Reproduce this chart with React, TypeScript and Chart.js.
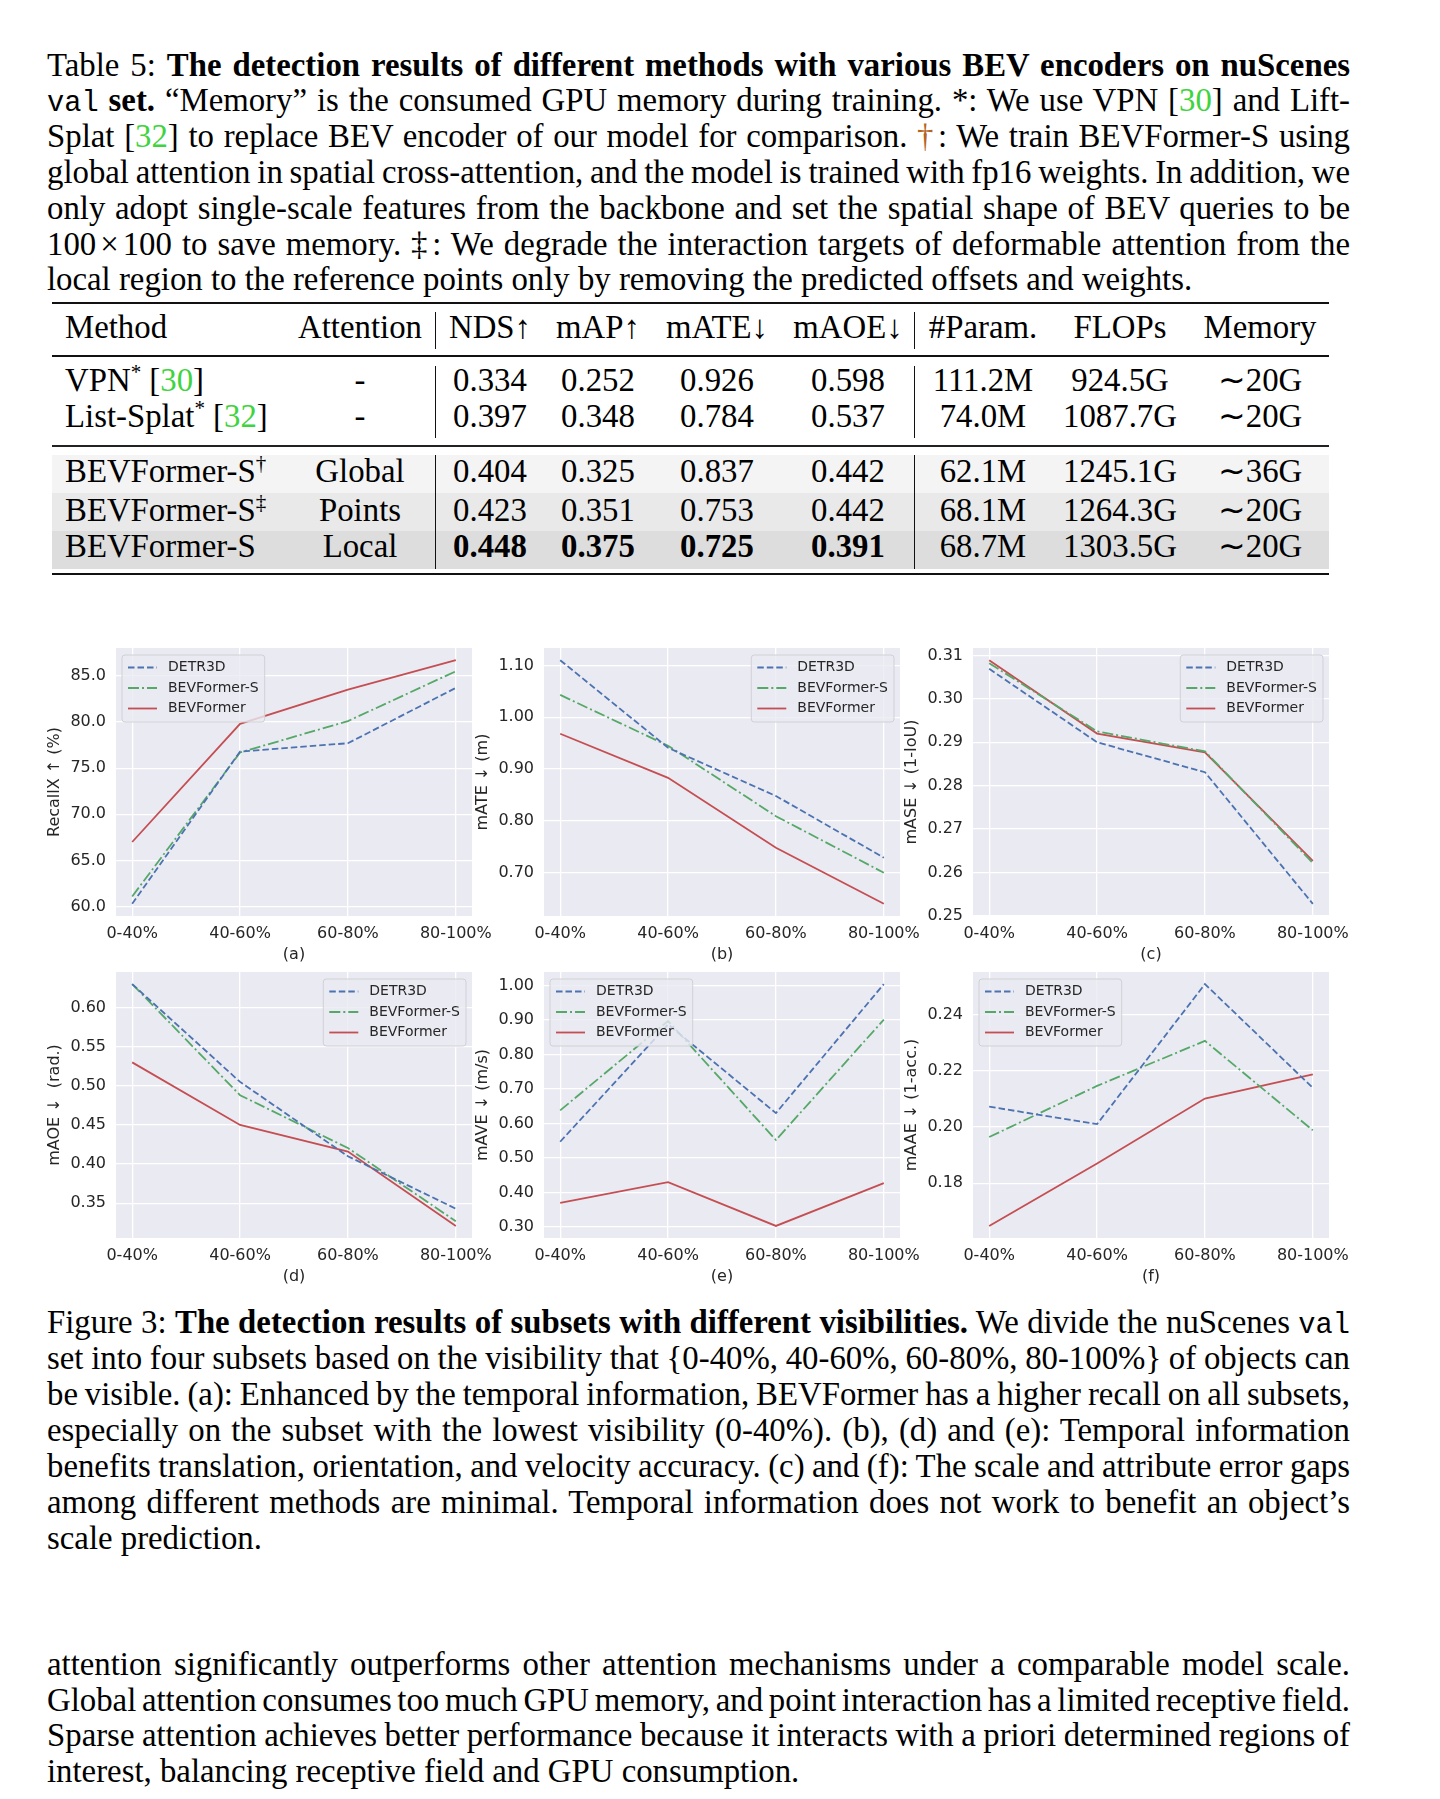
import React, { useEffect, useRef } from "react";
import { Chart, registerables } from "chart.js";

Chart.register(...registerables);

// ---------------- chart data ----------------
const categories = ["0-40%", "40-60%", "60-80%", "80-100%"];
const seriesNames = ["DETR3D", "BEVFormer-S", "BEVFormer"];

const recallDETR3D = [60.3, 76.8, 77.7, 83.7];
const recallBEVFormerS = [61.1, 76.7, 80.1, 85.5];
const recallBEVFormer = [67.0, 79.8, 83.5, 86.7];
const recallTicks = [60, 65, 70, 75, 80, 85];

const mateDETR3D = [1.11, 0.941, 0.848, 0.729];
const mateBEVFormerS = [1.043, 0.945, 0.809, 0.7];
const mateBEVFormer = [0.968, 0.883, 0.748, 0.64];
const mateTicks = [0.7, 0.8, 0.9, 1.0, 1.1];

const maseDETR3D = [0.3069, 0.29, 0.2831, 0.2528];
const maseBEVFormerS = [0.3082, 0.2925, 0.2879, 0.2622];
const maseBEVFormer = [0.3089, 0.292, 0.2877, 0.2627];
const maseTicks = [0.25, 0.26, 0.27, 0.28, 0.29, 0.3, 0.31];

const maoeDETR3D = [0.63, 0.505, 0.41, 0.343];
const maoeBEVFormerS = [0.63, 0.488, 0.4205, 0.327];
const maoeBEVFormer = [0.53, 0.45, 0.416, 0.321];
const maoeTicks = [0.35, 0.4, 0.45, 0.5, 0.55, 0.6];

const maveDETR3D = [0.547, 0.887, 0.63, 1.004];
const maveBEVFormerS = [0.638, 0.897, 0.552, 0.901];
const maveBEVFormer = [0.37, 0.43, 0.303, 0.427];
const maveTicks = [0.3, 0.4, 0.5, 0.6, 0.7, 0.8, 0.9, 1.0];

const maaeDETR3D = [0.2072, 0.201, 0.2508, 0.2139];
const maaeBEVFormerS = [0.1964, 0.2146, 0.2306, 0.1988];
const maaeBEVFormer = [0.1648, 0.187, 0.2101, 0.2187];
const maaeTicks = [0.18, 0.2, 0.22, 0.24];

// ---------------- table data ----------------
const tableHeaders = ["Method", "Attention", "NDS↑", "mAP↑", "mATE↓", "mAOE↓", "#Param.", "FLOPs", "Memory"];
const tableMethods = ["VPN", "List-Splat", "BEVFormer-S", "BEVFormer-S", "BEVFormer-S"];
const tableMarks = ["*", "*", "†", "‡", ""];
const tableCites = ["30", "32", "", "", ""];
const tableAttention = ["-", "-", "Global", "Points", "Local"];
const tableNDS = ["0.334", "0.397", "0.404", "0.423", "0.448"];
const tableMAP = ["0.252", "0.348", "0.325", "0.351", "0.375"];
const tableMATE = ["0.926", "0.784", "0.837", "0.753", "0.725"];
const tableMAOE = ["0.598", "0.537", "0.442", "0.442", "0.391"];
const tableParams = ["111.2M", "74.0M", "62.1M", "68.1M", "68.7M"];
const tableFLOPs = ["924.5G", "1087.7G", "1245.1G", "1264.3G", "1303.5G"];
const tableMemory = ["∼20G", "∼20G", "∼36G", "∼20G", "∼20G"];

// ---------------- styles ----------------
const COLORS = ["#4C72B0", "#55A868", "#C44E52"];
const DASHES = [[6.5, 3], [11, 3, 2, 3], []];
const SANS = '"DejaVu Sans", sans-serif';
const SERIF = '"Liberation Serif", "Times New Roman", serif';
const MONO = '"Liberation Mono", "DejaVu Sans Mono", monospace';
const TEXT_COLOR = "#262626";
const GREEN = "#3fd43f";
const FS = 32.8;

const bgPlugin = {
  id: "bgArea",
  beforeDraw(chart: any) {
    const { ctx, chartArea } = chart;
    ctx.save();
    ctx.fillStyle = "#EAEAF2";
    ctx.fillRect(chartArea.left, chartArea.top, chartArea.right - chartArea.left, chartArea.bottom - chartArea.top);
    ctx.restore();
  },
};

const innerLegend = {
  id: "innerLegend",
  afterDatasetsDraw(chart: any, _args: any, opts: any) {
    const { ctx, chartArea } = chart;
    const items = chart.data.datasets;
    ctx.save();
    ctx.font = `14px ${SANS}`;
    const textW = Math.max(...items.map((d: any) => ctx.measureText(d.label).width));
    const w = 46 + textW + 6;
    const h = 67;
    const x = opts.pos === "left" ? chartArea.left + 6 : chartArea.right - 6 - w;
    const y = chartArea.top + 7;
    const r = 3;
    ctx.beginPath();
    ctx.moveTo(x + r, y);
    ctx.lineTo(x + w - r, y);
    ctx.arcTo(x + w, y, x + w, y + r, r);
    ctx.lineTo(x + w, y + h - r);
    ctx.arcTo(x + w, y + h, x + w - r, y + h, r);
    ctx.lineTo(x + r, y + h);
    ctx.arcTo(x, y + h, x, y + h - r, r);
    ctx.lineTo(x, y + r);
    ctx.arcTo(x, y, x + r, y, r);
    ctx.closePath();
    ctx.fillStyle = "rgba(234,234,242,0.8)";
    ctx.fill();
    ctx.strokeStyle = "#d0d0d6";
    ctx.lineWidth = 1;
    ctx.stroke();
    items.forEach((d: any, i: number) => {
      const cy = y + 12.5 + i * 20.5;
      ctx.beginPath();
      ctx.setLineDash(d.borderDash || []);
      ctx.strokeStyle = d.borderColor;
      ctx.lineWidth = d.borderWidth;
      ctx.moveTo(x + 6, cy);
      ctx.lineTo(x + 35, cy);
      ctx.stroke();
      ctx.setLineDash([]);
      ctx.fillStyle = TEXT_COLOR;
      ctx.textBaseline = "middle";
      ctx.textAlign = "left";
      ctx.fillText(d.label, x + 46, cy);
    });
    ctx.restore();
  },
};

type ChartCfg = {
  plotLeft: number;
  plotTop: number;
  plotH: number;
  yTitle: string;
  sub: string;
  series: number[][];
  ticks: number[];
  dec: number;
  legend: "left" | "right";
};

const PLOT_W = 356;
const AXIS_W = 71;
const PAD_TOP = 22;
const PAD_RIGHT = 30;
const XAXIS_H = 48;

const chartCfgs: ChartCfg[] = [
  { plotLeft: 116, plotTop: 648, plotH: 268, yTitle: "RecallX ↑ (%)", sub: "(a)", series: [recallDETR3D, recallBEVFormerS, recallBEVFormer], ticks: recallTicks, dec: 1, legend: "left" },
  { plotLeft: 544, plotTop: 648, plotH: 268, yTitle: "mATE ↓ (m)", sub: "(b)", series: [mateDETR3D, mateBEVFormerS, mateBEVFormer], ticks: mateTicks, dec: 2, legend: "right" },
  { plotLeft: 973, plotTop: 648, plotH: 268, yTitle: "mASE ↓ (1-IoU)", sub: "(c)", series: [maseDETR3D, maseBEVFormerS, maseBEVFormer], ticks: maseTicks, dec: 2, legend: "right" },
  { plotLeft: 116, plotTop: 972, plotH: 266, yTitle: "mAOE ↓  (rad.)", sub: "(d)", series: [maoeDETR3D, maoeBEVFormerS, maoeBEVFormer], ticks: maoeTicks, dec: 2, legend: "right" },
  { plotLeft: 544, plotTop: 972, plotH: 266, yTitle: "mAVE ↓ (m/s)", sub: "(e)", series: [maveDETR3D, maveBEVFormerS, maveBEVFormer], ticks: maveTicks, dec: 2, legend: "left" },
  { plotLeft: 973, plotTop: 972, plotH: 266, yTitle: "mAAE ↓ (1-acc.)", sub: "(f)", series: [maaeDETR3D, maaeBEVFormerS, maaeBEVFormer], ticks: maaeTicks, dec: 2, legend: "left" },
];

function SmallChart({ cfg }: { cfg: ChartCfg }) {
  const ref = useRef<HTMLCanvasElement | null>(null);
  const w = AXIS_W + PLOT_W + PAD_RIGHT;
  const h = PAD_TOP + cfg.plotH + XAXIS_H;
  useEffect(() => {
    if (!ref.current) return;
    const all = cfg.series.flat();
    const lo = Math.min(...all);
    const hi = Math.max(...all);
    const m = (hi - lo) * 0.05;
    const xm = (categories.length - 1) * 0.05;
    const font = { family: SANS, size: 16 };
    const chart = new Chart(ref.current, {
      type: "line",
      data: {
        datasets: cfg.series.map((vals, si) => ({
          label: seriesNames[si],
          data: vals.map((v, i) => ({ x: i, y: v })),
          borderColor: COLORS[si],
          backgroundColor: COLORS[si],
          borderWidth: 1.8,
          borderDash: DASHES[si],
          pointRadius: 0,
          fill: false,
          tension: 0,
        })),
      },
      options: {
        animation: false,
        responsive: false,
        maintainAspectRatio: false,
        devicePixelRatio: 1,
        layout: { padding: { top: PAD_TOP, right: PAD_RIGHT, left: 0, bottom: 0 } },
        plugins: {
          legend: { display: false },
          tooltip: { enabled: false },
          innerLegend: { pos: cfg.legend },
        } as any,
        scales: {
          x: {
            type: "linear",
            min: -xm,
            max: categories.length - 1 + xm,
            afterBuildTicks: (ax: any) => {
              ax.ticks = categories.map((_, i) => ({ value: i }));
            },
            afterFit: (ax: any) => {
              ax.height = XAXIS_H;
            },
            ticks: {
              callback: (v: any) => categories[v as number],
              font,
              color: TEXT_COLOR,
              padding: 8,
              maxRotation: 0,
              autoSkip: false,
            },
            grid: { color: "#ffffff", lineWidth: 1.3, drawTicks: false },
            border: { display: false },
            title: { display: true, text: cfg.sub, font, color: TEXT_COLOR, padding: { top: 0, bottom: 0 } },
          },
          y: {
            type: "linear",
            min: lo - m,
            max: hi + m,
            afterBuildTicks: (ax: any) => {
              ax.ticks = cfg.ticks.map((v) => ({ value: v }));
            },
            afterFit: (ax: any) => {
              ax.width = AXIS_W;
            },
            ticks: {
              callback: (v: any) => Number(v).toFixed(cfg.dec),
              font,
              color: TEXT_COLOR,
              padding: 10,
              autoSkip: false,
            },
            grid: { color: "#ffffff", lineWidth: 1.3, drawTicks: false },
            border: { display: false },
            title: { display: true, text: cfg.yTitle, font, color: TEXT_COLOR, padding: { top: 0, bottom: 0 } },
          },
        },
      } as any,
      plugins: [bgPlugin, innerLegend],
    });
    return () => chart.destroy();
  }, []);
  return (
    <canvas
      ref={ref}
      width={w}
      height={h}
      style={{ position: "absolute", left: cfg.plotLeft - AXIS_W, top: cfg.plotTop - PAD_TOP, width: w, height: h }}
    />
  );
}

// ---------------- text helpers ----------------
const TXT_LEFT = 47;
const TXT_W = 1303;

function TLine({ y, last, children }: { y: number; last?: boolean; children: React.ReactNode }) {
  return (
    <div
      style={{
        position: "absolute",
        left: TXT_LEFT,
        top: y - 17.9,
        width: TXT_W,
        height: 35.8,
        lineHeight: "35.8px",
        fontSize: FS,
        fontFamily: SERIF,
        color: "#000",
        textAlign: last ? "left" : "justify",
        textAlignLast: last ? "left" : "justify",
        wordSpacing: last ? 0 : -3,
      } as any}
    >
      {children}
    </div>
  );
}

const Mono = ({ children }: { children: React.ReactNode }) => (
  <span style={{ fontFamily: MONO, fontSize: 28.7 }}>{children}</span>
);
const Cite = ({ n }: { n: string }) => (
  <span>
    [<span style={{ color: GREEN }}>{n}</span>]
  </span>
);
const Sup = ({ children }: { children: React.ReactNode }) => (
  <sup style={{ fontSize: 21, lineHeight: 0, verticalAlign: "baseline", position: "relative", top: -12 }}>{children}</sup>
);

function Cell({ x, y, align, bold, children }: { x: number; y: number; align?: "left" | "center"; bold?: boolean; children: React.ReactNode }) {
  return (
    <div
      style={{
        position: "absolute",
        left: x,
        top: y - 17.9,
        height: 35.8,
        lineHeight: "35.8px",
        fontSize: FS,
        fontFamily: SERIF,
        whiteSpace: "nowrap",
        fontWeight: bold ? "bold" : "normal",
        transform: align === "left" ? undefined : "translateX(-50%)",
        color: "#000",
      }}
    >
      {children}
    </div>
  );
}

const Box = ({ x, y, w, h, bg }: { x: number; y: number; w: number; h: number; bg: string }) => (
  <div style={{ position: "absolute", left: x, top: y, width: w, height: h, background: bg }} />
);

const colX = [65, 360, 490, 598, 717, 848, 983, 1120, 1260];
const headerY = 328;
const rowY = [381, 417, 472, 511, 547];
const TABLE_L = 52;
const TABLE_W = 1329 - 52;

function Table() {
  const cols = [tableNDS, tableMAP, tableMATE, tableMAOE];
  const rest = [tableParams, tableFLOPs, tableMemory];
  return (
    <>
      {/* row shading */}
      <Box x={TABLE_L} y={455} w={TABLE_W} h={38} bg="#f4f4f4" />
      <Box x={TABLE_L} y={493} w={TABLE_W} h={38} bg="#e9e9e9" />
      <Box x={TABLE_L} y={531} w={TABLE_W} h={38} bg="#dddddd" />
      {/* rules */}
      <Box x={TABLE_L} y={301.5} w={TABLE_W} h={2.5} bg="#111" />
      <Box x={TABLE_L} y={355.3} w={TABLE_W} h={1.6} bg="#111" />
      <Box x={TABLE_L} y={444.7} w={TABLE_W} h={2.2} bg="#222" />
      <Box x={TABLE_L} y={572.8} w={TABLE_W} h={2.6} bg="#111" />
      {/* vertical lines */}
      {[435, 914].map((vx) => (
        <React.Fragment key={vx}>
          <Box x={vx} y={312} w={1.1} h={37} bg="#111" />
          <Box x={vx} y={366} w={1.1} h={72} bg="#111" />
          <Box x={vx} y={455} w={1.1} h={114} bg="#111" />
        </React.Fragment>
      ))}
      {/* header */}
      {tableHeaders.map((t, i) => (
        <Cell key={t} x={colX[i]} y={headerY} align={i === 0 ? "left" : "center"}>
          {t}
        </Cell>
      ))}
      {/* rows */}
      {tableMethods.map((m, r) => (
        <React.Fragment key={r}>
          <Cell x={colX[0]} y={rowY[r]} align="left">
            {m}
            {tableMarks[r] ? <Sup>{tableMarks[r]}</Sup> : null}
            {tableCites[r] ? (
              <>
                {" "}
                <Cite n={tableCites[r]} />
              </>
            ) : null}
          </Cell>
          <Cell x={colX[1]} y={rowY[r]}>{tableAttention[r]}</Cell>
          {cols.map((c, ci) => (
            <Cell key={ci} x={colX[2 + ci]} y={rowY[r]} bold={r === 4}>
              {c[r]}
            </Cell>
          ))}
          {rest.map((c, ci) => (
            <Cell key={"r" + ci} x={colX[6 + ci]} y={rowY[r]}>
              {c[r]}
            </Cell>
          ))}
        </React.Fragment>
      ))}
    </>
  );
}

const tabCapY = [65.4, 101.2, 137, 172.8, 208.6, 244.4, 280.2];
const figCapY = [1323, 1358.9, 1394.8, 1430.7, 1466.6, 1502.5, 1538.4];
const bodyY = [1665, 1700.6, 1736.2, 1771.8];

export default function App() {
  return (
    <div style={{ position: "absolute", left: 0, top: 0, width: 1440, height: 1799, background: "#fff", overflow: "hidden" }}>
      {/* Table caption */}
      <TLine y={tabCapY[0]}>
        Table 5: <b>The detection results of different methods with various BEV encoders on nuScenes</b>
      </TLine>
      <TLine y={tabCapY[1]}>
        <Mono>val</Mono> <b>set.</b> “Memory” is the consumed GPU memory during training. *: We use VPN <Cite n="30" /> and Lift-
      </TLine>
      <TLine y={tabCapY[2]}>
        Splat <Cite n="32" /> to replace BEV encoder of our model for comparison. <span style={{ color: "#b5651d" }}>†</span>: We train BEVFormer-S using
      </TLine>
      <TLine y={tabCapY[3]}>
        global attention in spatial cross-attention, and the model is trained with fp16 weights. In addition, we
      </TLine>
      <TLine y={tabCapY[4]}>
        only adopt single-scale features from the backbone and set the spatial shape of BEV queries to be
      </TLine>
      <TLine y={tabCapY[5]}>
        100<span style={{ margin: "0 4px" }}>×</span>100 to save memory. ‡: We degrade the interaction targets of deformable attention from the
      </TLine>
      <TLine y={tabCapY[6]} last>
        local region to the reference points only by removing the predicted offsets and weights.
      </TLine>

      <Table />

      {chartCfgs.map((c) => (
        <SmallChart key={c.sub} cfg={c} />
      ))}

      {/* Figure caption */}
      <TLine y={figCapY[0]}>
        Figure 3: <b>The detection results of subsets with different visibilities.</b> We divide the nuScenes <Mono>val</Mono>
      </TLine>
      <TLine y={figCapY[1]}>
        set into four subsets based on the visibility that {"{"}0-40%, 40-60%, 60-80%, 80-100%{"}"} of objects can
      </TLine>
      <TLine y={figCapY[2]}>
        be visible. (a): Enhanced by the temporal information, BEVFormer has a higher recall on all subsets,
      </TLine>
      <TLine y={figCapY[3]}>
        especially on the subset with the lowest visibility (0-40%). (b), (d) and (e): Temporal information
      </TLine>
      <TLine y={figCapY[4]}>
        benefits translation, orientation, and velocity accuracy. (c) and (f): The scale and attribute error gaps
      </TLine>
      <TLine y={figCapY[5]}>
        among different methods are minimal. Temporal information does not work to benefit an object’s
      </TLine>
      <TLine y={figCapY[6]} last>
        scale prediction.
      </TLine>

      {/* Body text */}
      <TLine y={bodyY[0]}>
        attention significantly outperforms other attention mechanisms under a comparable model scale.
      </TLine>
      <TLine y={bodyY[1]}>
        Global attention consumes too much GPU memory, and point interaction has a limited receptive field.
      </TLine>
      <TLine y={bodyY[2]}>
        Sparse attention achieves better performance because it interacts with a priori determined regions of
      </TLine>
      <TLine y={bodyY[3]} last>
        interest, balancing receptive field and GPU consumption.
      </TLine>
    </div>
  );
}
